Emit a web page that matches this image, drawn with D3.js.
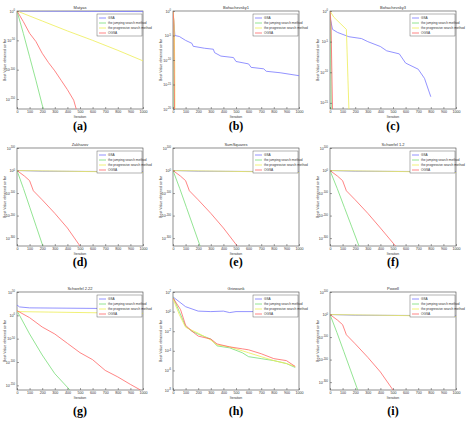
<!DOCTYPE html>
<html><head><meta charset="utf-8">
<script src="https://cdn.jsdelivr.net/npm/d3@7"></script>
<style>body{margin:0;background:#fff}</style></head>
<body><svg id="c" width="474" height="427"></svg>
<script>
const seriesNames = ["GSA","the jumping search method","the progressive search method","OGSA"];
const seriesColors = ["#7777ff","#77dd77","#eeee55","#ff6666"];
const panelLabels = ["(a)","(b)","(c)","(d)","(e)","(f)","(g)","(h)","(i)"];
const panelTitles = ["Matyas","Bohachevsky1","Bohachevsky3","Zakharov","SumSquares","Schwefel 1.2","Schwefel 2.22","Griewank","Powell"];
const xTicks = [0,100,200,300,400,500,600,700,800,900,1000];
const yDomains = [[-167,0],[-20,0],[-16,0],[-335,100],[-335,100],[-335,100],[-160,50],[-8,2],[-335,100]];
const yTicks = [[0,-50,-100,-150],[0,-5,-10,-15,-20],[0,-5,-10,-15],[100,0,-100,-200,-300],[100,0,-100,-200,-300],[100,0,-100,-200,-300],[50,0,-50,-100,-150],[2,0,-2,-4,-6,-8],[100,0,-100,-200,-300]];
const dataA = [
 [[0,0],[1000,-1]],
 [[0,0],[50,-38],[100,-78],[150,-118],[200,-160],[210,-167]],
 [[0,0],[200,-17],[400,-34],[600,-50],[800,-67],[1000,-85]],
 [[0,0],[50,-18],[100,-38],[150,-52],[200,-72],[250,-88],[300,-102],[350,-118],[400,-134],[450,-152],[470,-167]]];
const dataB = [
 [[0,0],[15,-5],[50,-5.2],[100,-6],[150,-6.6],[160,-7.2],[250,-7.6],[320,-7.8],[330,-8.5],[380,-9.2],[480,-9.5],[500,-10.3],[600,-10.8],[620,-11.5],[720,-11.8],[740,-12.3],[850,-12.6],[1000,-13.2]],
 [[0,0],[5,-3],[8,-20]],
 [[0,0],[4,-1],[10,-3],[14,-12],[15,-20]],
 [[0,0],[6,-2],[12,-20]]];
const dataC = [
 [[0,-1],[20,-3],[60,-3.5],[150,-4.2],[250,-4.5],[300,-5],[400,-5.8],[450,-6.5],[550,-7],[600,-8.5],[700,-9.5],[750,-11],[800,-14]],
 [[0,0],[5,-2],[10,-16]],
 [[0,0],[30,-1],[80,-2],[130,-3],[150,-16]],
 [[0,0],[8,-2],[20,-16]]];
const dataSlow = (g,r)=>[
 [[0,0],[200,-3],[1000,-5]],
 [[0,0],[g*0.25,-80],[g*0.5,-165],[g*0.75,-250],[g,-335]],
 [[0,0],[1000,-8]],
 [[0,0],[60,-25],[100,-45],[130,-90],[200,-130],[300,-190],[400,-255],[r,-335]]];
const dataD = dataSlow(205,500), dataE = dataSlow(215,510), dataF = dataSlow(230,520), dataI = dataSlow(220,500);
const dataG = [
 [[0,22],[20,18],[100,16],[1000,14]],
 [[0,10],[100,-40],[200,-85],[300,-125],[420,-160]],
 [[0,8],[1000,4]],
 [[0,10],[100,-5],[200,-25],[300,-40],[400,-60],[500,-80],[600,-95],[700,-118],[800,-132],[900,-148],[980,-160]]];
const dataH = [
 [[0,1.5],[50,1],[100,0.5],[200,0.05],[300,0],[400,0.05],[450,-0.1],[500,0],[700,0],[900,0.1],[980,-0.3]],
 [[0,1.5],[50,0],[100,-1.5],[150,-2],[200,-2.3],[300,-2.8],[350,-3.5],[450,-3.7],[550,-4.2],[600,-4.6],[700,-4.8],[800,-5],[900,-5.3],[970,-5.7]],
 [[0,1.3],[50,-0.3],[100,-1.6],[150,-1.9],[200,-2.2],[300,-2.9],[350,-3.4],[450,-3.6],[550,-4],[600,-4.2],[700,-4.6],[800,-5],[900,-5.3],[970,-5.6]],
 [[0,1.4],[60,0.2],[100,-1.4],[150,-2],[200,-2.5],[300,-2.8],[350,-3.3],[450,-3.6],[550,-3.8],[600,-3.9],[700,-4.3],[800,-4.8],[900,-5],[970,-5.6]]];
const allData = [dataA,dataB,dataC,dataD,dataE,dataF,dataG,dataH,dataI];

const svg = d3.select("#c");
const colX = [17,173,330], rowY = [11,148,292], labOff = [21,20,25];
const W = 126, H = 98;
const FF = "Liberation Sans, Arial, sans-serif";
allData.forEach((data,i)=>{
  const ox = colX[i%3], r = Math.floor(i/3), oy = rowY[r];
  const g = svg.append("g").attr("transform",`translate(${ox},${oy})`);
  const x = d3.scaleLinear().domain([0,1000]).range([0,W]);
  const y = d3.scaleLinear().domain(yDomains[i]).range([H,0]);
  g.append("clipPath").attr("id","cp"+i).append("rect").attr("width",W).attr("height",H);
  g.append("rect").attr("width",W).attr("height",H).attr("fill","none").attr("stroke","#444").attr("stroke-width",0.6);
  const line = d3.line().x(d=>x(d[0])).y(d=>y(d[1]));
  const lg = g.append("g").attr("clip-path",`url(#cp${i})`);
  data.forEach((s,k)=>lg.append("path").attr("d",line(s)).attr("fill","none").attr("stroke",seriesColors[k]).attr("stroke-width",0.8));
  const xa = g.append("g").attr("transform",`translate(0,${H})`).call(d3.axisBottom(x).tickValues(xTicks).tickSize(-2).tickPadding(1.5).tickFormat(d3.format("d")));
  const ya = g.append("g").call(d3.axisLeft(y).tickValues(yTicks[i]).tickSize(-2).tickFormat(d=>""));
  [xa,ya].forEach(a=>{a.attr("font-family",FF);a.selectAll("text").attr("font-size",3.6).attr("fill","#333");a.selectAll("line").attr("stroke","#444").attr("stroke-width",0.5);a.select(".domain").remove();});
  yTicks[i].forEach(t=>{
    const tx = g.append("text").attr("x",-2).attr("y",y(t)+1.5).attr("text-anchor","end").attr("font-size",3.6).attr("font-family",FF).attr("fill","#333");
    tx.append("tspan").text("10");
    tx.append("tspan").attr("dy",-1.5).attr("font-size",2.6).text(t);
  });
  g.append("text").attr("x",W/2).attr("y",-2).attr("text-anchor","middle").attr("font-size",4).attr("font-family",FF).attr("fill","#333").text(panelTitles[i]);
  g.append("text").attr("x",W/2).attr("y",H+8.5).attr("text-anchor","middle").attr("font-size",3.4).attr("font-family",FF).attr("fill","#333").text("Iteration");
  g.append("text").attr("transform",`translate(-11,${H/2}) rotate(-90)`).attr("text-anchor","middle").attr("font-size",3.6).attr("font-family",FF).attr("fill","#333").text("Best Value obtained so far");
  const leg = g.append("g").attr("transform",`translate(${W-46},3)`);
  leg.append("rect").attr("width",45).attr("height",22).attr("fill","#fff").attr("stroke","#444").attr("stroke-width",0.4);
  seriesNames.forEach((n,k)=>{
    leg.append("line").attr("x1",2).attr("x2",9).attr("y1",4+k*5).attr("y2",4+k*5).attr("stroke",seriesColors[k]).attr("stroke-width",0.8);
    leg.append("text").attr("x",11).attr("y",5.3+k*5).attr("font-size",3.2).attr("font-family",FF).attr("fill","#333").text(n);
  });
  svg.append("text").attr("x",ox+W/2).attr("y",oy+H+labOff[r]).attr("text-anchor","middle").attr("font-size",12).attr("font-weight","bold").attr("font-family","Liberation Serif, serif").text(panelLabels[i]);
});
</script></body></html>
